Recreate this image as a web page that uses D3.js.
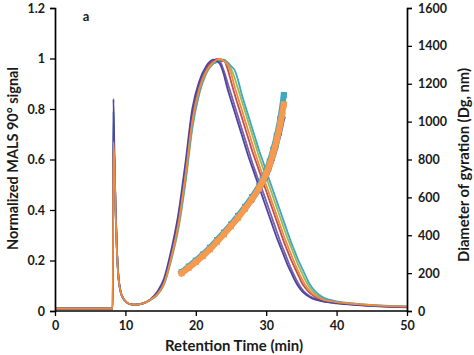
<!DOCTYPE html>
<html><head><meta charset="utf-8">
<script src="https://cdn.jsdelivr.net/npm/d3@7"></script>
<style>
body{margin:0;background:#fff;}
svg text{font-family:Lato,"Open Sans",sans-serif;font-weight:bold;fill:#1a1a1a;}
</style></head>
<body><svg id="c" width="474" height="355"></svg>
<script>
// ---- data ----
const malsTime = [0,8.1,8.2,8.3,8.45,8.6,8.8,9.0,9.3,9.7,10.2,10.8,11.5,12.5,13.5,14.5,15.5,16.5,17.5,18.5,19.5,20.5,21.5,22.5,23,23.5,24,24.5,25,25.5,26,26.5,27,27.5,28,28.5,29,29.5,30,30.5,31,31.5,32,32.5,33,33.5,34,34.5,35,35.5,36,36.5,37,38,40,43,46,50];
const malsPurple = [0.01,0.01,0.01,0.84,0.6,0.42,0.24,0.14,0.08,0.05,0.033,0.026,0.025,0.03,0.045,0.075,0.13,0.24,0.38,0.58,0.80,0.91,0.97,0.995,0.99,0.975,0.935,0.88,0.835,0.79,0.745,0.70,0.655,0.61,0.57,0.53,0.49,0.45,0.41,0.37,0.33,0.29,0.255,0.22,0.185,0.155,0.125,0.10,0.082,0.068,0.058,0.05,0.045,0.038,0.03,0.023,0.018,0.014];
const malsViolet = [0.01,0.01,0.01,0.67,0.58,0.40,0.235,0.138,0.079,0.05,0.033,0.026,0.025,0.03,0.044,0.07,0.12,0.225,0.36,0.56,0.78,0.90,0.965,0.99,0.995,0.985,0.95,0.905,0.86,0.815,0.77,0.725,0.68,0.635,0.59,0.55,0.51,0.475,0.435,0.395,0.355,0.315,0.275,0.24,0.205,0.17,0.14,0.112,0.09,0.074,0.062,0.054,0.048,0.04,0.031,0.024,0.019,0.015];
const malsRed = [0.01,0.01,0.01,0.67,0.58,0.40,0.235,0.138,0.079,0.05,0.033,0.026,0.025,0.03,0.044,0.068,0.115,0.215,0.35,0.54,0.76,0.885,0.955,0.99,0.998,0.99,0.99,0.96,0.91,0.86,0.815,0.77,0.725,0.68,0.635,0.595,0.555,0.515,0.475,0.435,0.395,0.355,0.315,0.275,0.24,0.205,0.175,0.145,0.115,0.093,0.077,0.065,0.055,0.043,0.033,0.025,0.02,0.016];
const malsGreen = [0.01,0.01,0.01,0.67,0.58,0.40,0.235,0.138,0.079,0.05,0.033,0.026,0.025,0.03,0.043,0.062,0.105,0.20,0.32,0.50,0.72,0.86,0.94,0.98,0.99,0.995,0.99,0.975,0.96,0.925,0.88,0.835,0.79,0.745,0.70,0.655,0.61,0.57,0.53,0.49,0.45,0.41,0.37,0.33,0.29,0.255,0.22,0.185,0.155,0.125,0.10,0.082,0.068,0.05,0.036,0.027,0.021,0.017];
const malsTeal = [0.01,0.01,0.01,0.79,0.59,0.41,0.237,0.139,0.079,0.05,0.033,0.026,0.025,0.03,0.043,0.064,0.108,0.205,0.33,0.51,0.73,0.865,0.945,0.98,0.985,0.995,0.995,0.985,0.97,0.955,0.915,0.86,0.815,0.77,0.725,0.68,0.635,0.595,0.555,0.515,0.475,0.435,0.395,0.355,0.315,0.275,0.24,0.205,0.175,0.145,0.115,0.093,0.077,0.055,0.038,0.028,0.022,0.018];
const malsOrange = [0.01,0.01,0.01,0.67,0.58,0.40,0.235,0.138,0.079,0.05,0.033,0.026,0.025,0.03,0.044,0.066,0.11,0.21,0.34,0.53,0.75,0.88,0.95,0.985,0.995,0.998,0.99,0.978,0.943,0.89,0.844,0.80,0.754,0.71,0.664,0.62,0.578,0.538,0.498,0.458,0.418,0.378,0.338,0.298,0.262,0.227,0.192,0.161,0.131,0.105,0.086,0.071,0.06,0.046,0.035,0.027,0.021,0.017];

const dgTime = [18,19,20,21,22,23,24,25,26,27,28,29,29.5,30,30.5,31,31.5,32,32.5];
const dgTeal = [205,235,266,298,334,374,414,457,502,550,602,660,697,738,790,852,925,1015,1140];
const dgOrange = [200,228,258,290,325,365,405,448,492,540,592,650,685,725,775,835,905,990,1090];
const dgGreen = [198,225,255,287,321,360,400,442,485,532,582,636,668,705,752,808,872,950,1040];
const dgPurple = [198,224,254,286,320,359,398,440,483,530,579,632,663,700,745,800,862,935,1020];

const xTicks = [0,10,20,30,40,50];
const yLeftTicks = [0,0.2,0.4,0.6,0.8,1,1.2];
const yRightTicks = [0,200,400,600,800,1000,1200,1400,1600];

// ---- layout ----
const L = 55, R = 407, T = 8, B = 311;
const svg = d3.select("#c");
const x = d3.scaleLinear().domain([0,50]).range([L,R]);
const y = d3.scaleLinear().domain([0,1.2]).range([B,T]);
const y2 = d3.scaleLinear().domain([0,1600]).range([B,T]);

const malsSeries = [
  {v: malsViolet, c:"#7b62a8"},
  {v: malsRed, c:"#c0504d"},
  {v: malsGreen, c:"#9bbb59"},
  {v: malsTeal, c:"#3fa7bf"},
  {v: malsPurple, c:"#4f44a0"},
  {v: malsOrange, c:"#f08a3c"}
];
const line = d3.line().x(d=>x(d[0])).y(d=>y(d[1])).curve(d3.curveMonotoneX);
malsSeries.forEach(s=>{
  const pts = malsTime.map((t,i)=>[t,s.v[i]]);
  svg.append("path").attr("d", line(pts)).attr("fill","none")
    .attr("stroke", s.c).attr("stroke-width",1.8).attr("stroke-linejoin","round");
});

// Dg scatter bands
const lineD = d3.line().x(d=>x(d[0])).y(d=>y2(d[1])).curve(d3.curveMonotoneX);
const dgSeries = [
  {v: dgPurple, c:"#6a58a8", w:3},
  {v: dgGreen, c:"#9bbb59", w:3},
  {v: dgTeal, c:"#3fa7bf", w:6},
  {v: dgOrange, c:"#f79a4e", w:6}
];
dgSeries.forEach(s=>{
  const pts = dgTime.map((t,i)=>[t,s.v[i]]);
  svg.append("path").attr("d", lineD(pts)).attr("fill","none")
    .attr("stroke", s.c).attr("stroke-width", s.w).attr("stroke-linecap","square");
  svg.selectAll(null).data(pts).enter().append("rect")
    .attr("x", d=>x(d[0])-s.w/2).attr("y", d=>y2(d[1])-s.w/2)
    .attr("width", s.w).attr("height", s.w).attr("fill", s.c);
});

// axes
const ax = d3.axisBottom(x).tickValues(xTicks).tickSize(5).tickFormat(d3.format("d"));
const gx = svg.append("g").attr("transform",`translate(0,${B})`).call(ax);
const ayl = d3.axisLeft(y).tickValues(yLeftTicks).tickSize(5).tickFormat(d=>d3.format("")(+d.toFixed(1)));
const gyl = svg.append("g").attr("transform",`translate(${L},0)`).call(ayl);
const ayr = d3.axisRight(y2).tickValues(yRightTicks).tickSize(5).tickFormat(d3.format("d"));
const gyr = svg.append("g").attr("transform",`translate(${R},0)`).call(ayr);
[gx,gyl,gyr].forEach(g=>{
  g.select(".domain").attr("stroke","#000").attr("stroke-width",1.7);
  g.selectAll(".tick line").attr("stroke","#000").attr("stroke-width",1.3);
  g.selectAll("text").attr("font-size","12.5px").attr("fill","#1a1a1a")
    .style("font-family","Lato, sans-serif").style("font-weight","bold");
});
gx.select(".domain").attr("d",`M${L},0H${R}`);
gx.selectAll(".tick text").attr("y",7).attr("dy","0.95em");
gyl.selectAll(".tick text").attr("x",-10);
gyr.selectAll(".tick text").attr("x",11);

// labels, sized to the reference's text lengths
function fit(sel, target){
  const len = sel.node().getComputedTextLength();
  const fs = parseFloat(sel.attr("font-size"));
  sel.attr("font-size", (fs*target/len).toFixed(2)+"px");
}
const xl = svg.append("text").attr("x",234).attr("y",350.5).attr("text-anchor","middle")
  .attr("font-size","14px").text("Retention Time (min)");
fit(xl,138);
const yl = svg.append("text").attr("transform","translate(18,158.5) rotate(-90)").attr("text-anchor","middle")
  .attr("font-size","14px").text("Normalized MALS 90° signal");
fit(yl,183);
const yr = svg.append("text").attr("transform","translate(469,165) rotate(-90)").attr("text-anchor","middle")
  .attr("font-size","14px").text("Diameter of gyration (Dg, nm)");
fit(yr,194);
svg.append("text").attr("x",86).attr("y",21).attr("text-anchor","middle")
  .attr("font-size","13px").text("a");
</script></body></html>
